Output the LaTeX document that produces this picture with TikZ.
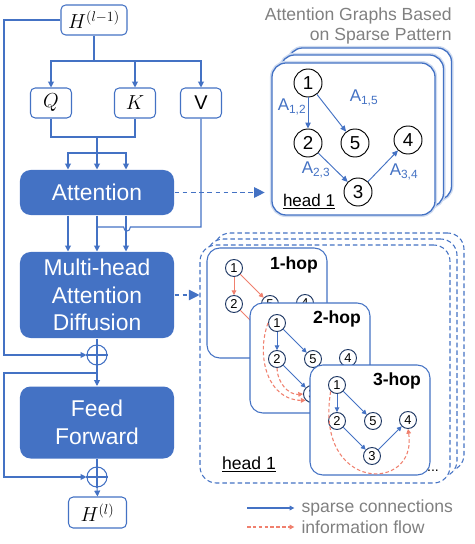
\documentclass[tikz,border=0pt]{standalone}
\usepackage{fontspec}
\setmainfont{Liberation Sans}
\usetikzlibrary{arrows.meta}
\definecolor{myblue}{RGB}{68,114,196}
\definecolor{flowred}{RGB}{240,128,110}
\definecolor{txtgray}{RGB}{128,128,128}
\definecolor{navy}{RGB}{31,56,100}

\begin{document}
\begin{tikzpicture}[
  x=0.03cm, y=-0.03cm,
  line width=0.9pt,
  link/.style={draw=myblue},
  arr/.style={draw=myblue, -{Triangle[length=5pt,width=5pt]}},
  dasharr/.style={draw=myblue, dash pattern=on 4pt off 3pt, -{Triangle[length=9pt,width=9pt]}},
  vbox/.style={draw=myblue, fill=white, rounded corners=4pt, inner sep=0pt, minimum height=9mm, font=\fontsize{17}{18}\selectfont},
  blk/.style={fill=myblue, text=white, rounded corners=9pt, minimum width=46.2mm, align=center, font=\fontsize{19.5}{23.5}\selectfont},
  addnode/.style={circle, draw=myblue, fill=white, minimum size=6mm, inner sep=0pt},
  gframe/.style={draw=myblue, fill=white, rounded corners=12pt, minimum width=48.9mm, minimum height=45.6mm, line width=1.1pt, preaction={draw=myblue!25, line width=3.5pt}},
  gnode/.style={circle, draw=black, fill=white, minimum size=8.4mm, inner sep=0pt, line width=0.8pt, font=\fontsize{16}{16}\selectfont},
  glabel/.style={text=myblue, font=\fontsize{14.5}{15}\selectfont},
  garr/.style={draw=myblue, -{Triangle[length=5pt,width=4.5pt]}, line width=0.8pt},
  hframe/.style={draw=myblue, dash pattern=on 4pt off 2.5pt, fill=white, rounded corners=14pt, minimum width=75mm, minimum height=71.4mm},
  hopbox/.style={draw=myblue, fill=white, rounded corners=11pt, minimum width=36mm, minimum height=33mm},
  hoplabel/.style={font=\bfseries\fontsize{15}{15}\selectfont},
  snode/.style={circle, draw=navy, fill=white, minimum size=5.1mm, inner sep=0pt, line width=0.8pt, font=\fontsize{11}{11}\selectfont},
  sarr/.style={draw=myblue, -{Triangle[length=4pt,width=4pt]}, line width=0.7pt},
  hoparr/.style={draw=flowred, -{Triangle[length=4pt,width=4pt]}, line width=0.8pt},
  flow/.style={draw=flowred, dash pattern=on 3pt off 2pt, -{Triangle[length=4pt,width=4pt]}, line width=0.9pt},
  note/.style={text=txtgray, font=\fontsize{15}{17.5}\selectfont}
]
  \useasboundingbox (0,0) rectangle (474,544);

  % left column
  \node[vbox, minimum width=19.8mm] (hin) at (94,20) {$H^{(l-1)}$};
  \node[vbox, minimum width=12.3mm] (q) at (51,103) {$Q$};
  \node[vbox, minimum width=12.3mm] (k) at (135,103) {$K$};
  \node[vbox, minimum width=12.3mm] (v) at (201,103) {V};
  \node[blk, minimum height=13.5mm] (att) at (97,192.5) {Attention};
  \node[blk, minimum height=25.8mm] (mhad) at (97,295) {Multi-head\\Attention\\Diffusion};
  \node[addnode] (add1) at (97,355) {};
  \node[blk, minimum height=21.6mm] (ff) at (97,422.5) {Feed\\Forward};
  \node[addnode] (add2) at (97,477) {};
  \node[vbox, minimum width=17.4mm, minimum height=9.3mm] (hout) at (97.5,512.5) {$H^{(l)}$};

  \foreach \a in {add1,add2} {
    \draw[link] (\a.north) -- (\a.south);
    \draw[link] (\a.west) -- (\a.east);
  }

  \coordinate (split) at (94,61);
  \coordinate (qk) at (97,137);
  \coordinate (qkdown) at (97,153);
  \coordinate (hop) at (127,227);
  \coordinate (vjoin) at (97,227);
  \coordinate (res1) at (4,355);
  \coordinate (res2top) at (97,373);
  \coordinate (res2) at (4,477);

  \draw[link] (hin.south) -- (split);
  \foreach \t in {q,k,v}
    \draw[arr] (split) -| (\t.north);
  \draw[link] (q.south) |- (qk) -| (k.south);
  \draw[link] (qk) -- (qkdown);
  \draw[arr] (qkdown) -| ([xshift=-8.7mm]att.north);
  \draw[arr] (qkdown) -- (att.north);
  \draw[arr] (qkdown) -| ([xshift=8.7mm]att.north);

  \draw[arr] ([xshift=-8.7mm]att.south) -- ([xshift=-8.7mm]mhad.north);
  \draw[arr] (att.south) -- (mhad.north);
  \draw[arr] ([xshift=8.7mm]att.south) -- ([xshift=8.7mm]mhad.north);
  \draw[link] (v.south) |- ([xshift=1mm]hop)
    .. controls ([xshift=1mm,yshift=-1.6mm]hop) and ([xshift=-1mm,yshift=-1.6mm]hop) .. ([xshift=-1mm]hop)
    -- (vjoin);

  \draw[arr] (hin.west) -| (res1) -- (add1.west);
  \draw[link] (mhad.south) -- (add1.north);
  \draw[arr] (add1.south) -- (ff.north);
  \draw[arr] (res2top) -| (res2) -- (add2.west);
  \draw[link] (ff.south) -- (add2.north);
  \draw[arr] (add2.south) -- (hout.north);

  % attention graphs
  \node[note, align=right, anchor=north east] (title) at (456,3) {Attention Graphs Based\\on Sparse Pattern};
  \node[gframe] (g3) at (370,124) {};
  \node[gframe] (g2) at (362,131) {};
  \node[gframe] (g1) at (353.5,139) {};
  \node[gnode] (n1) at (308,83) {1};
  \node[gnode] (n2) at (308,143) {2};
  \node[gnode] (n5) at (355,143) {5};
  \node[gnode] (n4) at (408,140) {4};
  \node[gnode] (n3) at (358,192) {3};
  \draw[garr] (n1) -- (n2);
  \draw[garr] (n1) -- (n5);
  \draw[garr] (n2) -- (n3);
  \draw[garr] (n3) -- (n4);
  \node[glabel] at (292,107) {A\textsubscript{1,2}};
  \node[glabel] at (364,98) {A\textsubscript{1,5}};
  \node[glabel] at (316,170) {A\textsubscript{2,3}};
  \node[glabel] at (404,172) {A\textsubscript{3,4}};
  \node[font=\fontsize{14.5}{15}\selectfont] at (309,202) {\underline{head 1}};

  \draw[dasharr, shorten >=2mm] (att.east) -- (att.east -| g1.west);

  % diffusion heads
  \node[hframe] (fr3) at (339,352) {};
  \node[hframe] (fr2) at (332,358) {};
  \node[hframe] (fr1) at (325,364) {};
  \draw[dasharr] (mhad.east) -- (mhad.east -| fr1.west);
  \node[font=\fontsize{15}{15}\selectfont] at (249,464) {\underline{head 1}};

  % 1-hop
  \node[hopbox] (hop1) at (267,303) {};
  \node[hoplabel] at (294,265) {1-hop};
  \foreach \n/\dx/\dy in {1/27/20, 2/27/56, 5/63/56, 4/98/55, 3/62/91}
    \node[snode] (one\n) at (207+\dx,248+\dy) {\n};
  \draw[hoparr] (one1) -- (one2);
  \draw[hoparr] (one1) -- (one5);
  \draw[hoparr] (one2) -- (one3);

  % 2-hop
  \node[hopbox] (hop2) at (310,358) {};
  \node[hoplabel] at (337,319) {2-hop};
  \foreach \n/\dx/\dy in {1/27/20, 2/27/56, 5/63/56, 4/98/55, 3/62/91}
    \node[snode] (two\n) at (250+\dx,303+\dy) {\n};
  \draw[sarr] (two1) -- (two2);
  \draw[sarr] (two1) -- (two5);
  \draw[sarr] (two2) -- (two3);
  \draw[sarr] (two3) -- (two4);
  \draw[flow] (two1.west) to[out=250,in=180,looseness=1.1] (two3.south west);
  \draw[flow] (two2.south) to[out=270,in=185] (two3.west);

  % 3-hop
  \node[hopbox] (hop3) at (370,420) {};
  \node[hoplabel] at (397,381) {3-hop};
  \foreach \n/\dx/\dy in {1/27/20, 2/27/56, 5/63/56, 4/98/55, 3/62/91}
    \node[snode] (three\n) at (310+\dx,365+\dy) {\n};
  \draw[sarr] (three1) -- (three2);
  \draw[sarr] (three1) -- (three5);
  \draw[sarr] (three2) -- (three3);
  \draw[sarr] (three3) -- (three4);
  \draw[flow] (three1.south west) .. controls (314,493) and (418,493) .. (three4.south);
  \node[font=\fontsize{12}{12}\selectfont] at (433,471) {...};

  % legend
  \node[note, anchor=west, inner sep=0pt] (lg1) at (301,508) {sparse connections};
  \node[note, anchor=west, inner sep=0pt] (lg2) at (301,527) {information flow};
  \coordinate (lg1s) at (247,508);
  \coordinate (lg2s) at (247,527);
  \draw[sarr, line width=0.9pt, shorten >=2mm] (lg1s) -- (lg1.west);
  \draw[flow, shorten >=2mm] (lg2s) -- (lg2.west);
\end{tikzpicture}
\end{document}
